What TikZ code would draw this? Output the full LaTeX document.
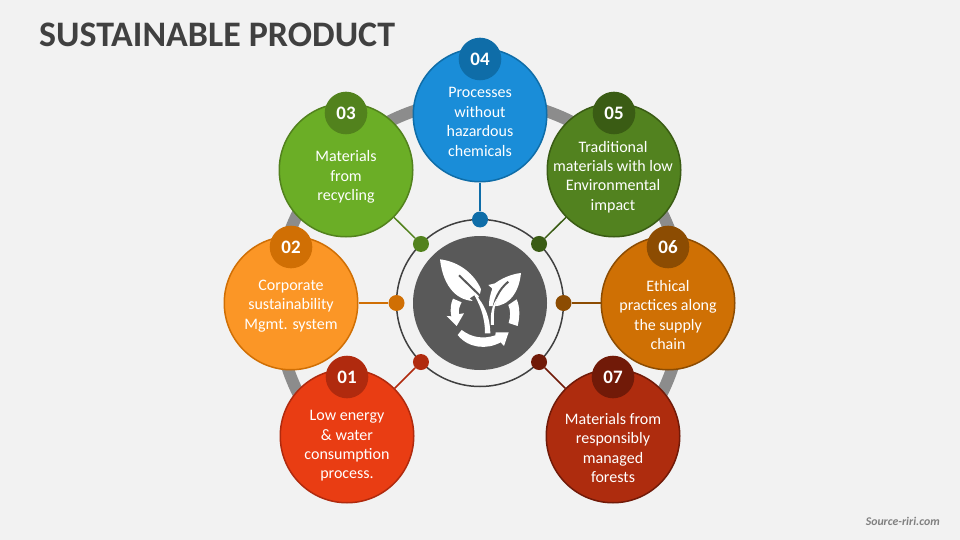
\documentclass[tikz,border=0pt]{standalone}
\usepackage{fontspec}
\setmainfont{Carlito}
\usetikzlibrary{positioning,calc}
\definecolor{col01}{HTML}{E93D13} \definecolor{dark01}{HTML}{B02A0E}
\definecolor{col02}{HTML}{FB9626} \definecolor{dark02}{HTML}{D06F04}
\definecolor{col03}{HTML}{6BAE26} \definecolor{dark03}{HTML}{52821D}
\definecolor{col04}{HTML}{1A8DD8} \definecolor{dark04}{HTML}{0F6DA8}
\definecolor{col05}{HTML}{52821F} \definecolor{dark05}{HTML}{3A5C14}
\definecolor{col06}{HTML}{CF7004} \definecolor{dark06}{HTML}{8C4C02}
\definecolor{col07}{HTML}{AE2C0E} \definecolor{dark07}{HTML}{711A08}
\definecolor{pagegrey}{HTML}{F2F2F2}
\definecolor{coregrey}{HTML}{595959}
\definecolor{ringgrey}{HTML}{8C8C8C}
\definecolor{titlegrey}{HTML}{404040}
\tikzset{
  petal/.style={circle,minimum size=133.5pt,inner sep=0pt,line width=1.5pt},
  badge/.style={circle,minimum size=42.6pt,inner sep=0pt,text=white,font=\fontsize{19}{20}\selectfont\bfseries},
  petaltext/.style={align=center,text=white,inner sep=0pt,font=\fontsize{16}{19.4}\selectfont},
  dotnode/.style={circle,minimum size=16pt,inner sep=0pt},
}
% #1 number, #2 #3 centre, #4 badge y, #5 #6 text, #7 label
\newcommand \mypetal[7]
{
\node[petal,fill=col#1,draw=dark#1] (c#1) at (#2,#3) {};
\node[badge,fill=dark#1] (b#1) at (#2,#4) {#1};
\node[petaltext] (t#1) at (#5,#6) {#7};
}
\begin{document}
\begin{tikzpicture}[x=1pt,y=-1pt]
\useasboundingbox[fill=pagegrey] (0,0) rectangle (960,540);
\node[anchor=west,inner sep=0pt,text=titlegrey,font=\fontsize{35.9}{40}\selectfont\bfseries] (title) at (39,34.5) {SUSTAINABLE PRODUCT};
\node[anchor=east,inner sep=0pt,text=black!50,font=\fontsize{11.8}{13}\selectfont\bfseries\itshape] (source) at (940,521) {Source-riri.com};
% rings and centre
\coordinate (mid) at (480,303);
\draw[ringgrey,line width=12pt] (mid) ++(135:203) arc (135:405:203);
\draw[titlegrey,line width=1.5pt] (mid) circle (83.5);
\node[circle,fill=coregrey,minimum size=134pt,inner sep=0pt] (core) at (mid) {};
% petals
\mypetal{01}{347}{436}{377}{347}{446}{Low energy\\\& water\\consumption\\process.}
\mypetal{02}{291}{303}{247}{291}{306}{Corporate\\sustainability\\Mgmt. system}
\mypetal{03}{346}{170}{113}{346}{177}{Materials\\from\\recycling}
\mypetal{04}{480}{115}{59}{480}{122}{Processes\\without\\hazardous\\chemicals}
\mypetal{05}{614}{170}{113}{613}{177}{Traditional\\materials with low\\Environmental\\impact}
\mypetal{06}{668}{303}{247}{668}{315}{Ethical\\practices along\\the supply\\chain}
\mypetal{07}{613}{436}{377}{613}{448}{Materials from\\responsibly\\managed\\forests}
% dots and connectors
\foreach \n/\a in {01/135,02/180,03/225,04/270,05/315,06/360,07/405}
{
\node[dotnode,fill=dark\n] (d\n) at ($(mid)+(\a:83.5)$) {};
\draw[dark\n,line width=1.5pt] (c\n) -- (d\n);
}
% leaf icon
\begin{scope}[shift={(380,200)},scale=0.3333]
\fill[white] (180,178) .. controls (240,185) and (285,225) .. (303,268)
  .. controls (300,285) and (295,295) .. (288,303)
  .. controls (235,305) and (190,265) .. cycle;
\fill[white] (423,219) .. controls (395,222) and (365,235) .. (345,250) -- (325,255) -- (337,266)
  .. controls (330,285) and (327,300) .. (327,318)
  .. controls (365,325) and (415,300) .. cycle;
\draw[coregrey,line width=2pt] (237,226) -- (305,292);
\draw[coregrey,line width=2pt] (385,245) .. controls (355,270) and (342,300) .. (338,340);
\fill[coregrey] (285,285) .. controls (305,300) and (335,340) .. (338,402) -- (305,402) .. controls (305,350) and (290,310) .. (270,295) -- cycle;
\fill[white] (272,268) .. controls (305,300) and (330,340) .. (331,400) -- (315,400)
  .. controls (315,350) and (300,310) .. (272,268) -- cycle;
\fill[white] (355,290) .. controls (342,315) and (340,345) .. (342,375) -- (333,375) .. controls (330,345) and (335,315) .. cycle;
\fill[white] (219,296) -- (245,307) .. controls (238,320) and (235,330) .. (237,342) -- (252,340) -- (230,378) -- (200,348) -- (214,349)
  .. controls (210,330) and (212,310) .. cycle;
\fill[white] (410,298) .. controls (420,320) and (420,350) .. (413,378) -- (386,369)
  .. controls (392,350) and (392,330) .. (385,315) -- cycle;
\fill[white] (245,390) .. controls (275,413) and (310,418) .. (346,406) -- (347,397) -- (386,397) -- (372,438) -- (362,427)
  .. controls (320,450) and (265,445) .. (233,405) -- cycle;
\end{scope}
\end{tikzpicture}
\end{document}
